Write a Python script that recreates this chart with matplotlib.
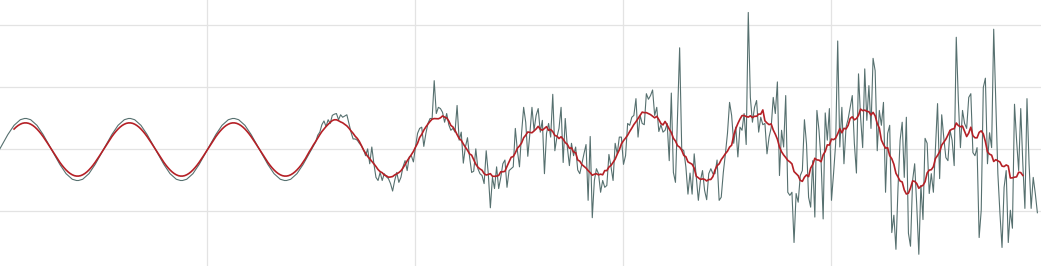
import numpy as np
import pandas as pd
import matplotlib
matplotlib.use("Agg")
import matplotlib.pyplot as plt

# signal values, one per step (x = 0..499)
# first part: clean wave, three periods
clean = [
    0, .06, .12, .18, .24, .29, .34, .39, .42, .45, .48, .49, .5, .5, .49, .48, .45, .42, .39, .34,
    .29, .24, .18, .12, .06, 0, -.06, -.12, -.18, -.24, -.29, -.34, -.39, -.42, -.45, -.48, -.49, -.5,
    -.5, -.49, -.48, -.45, -.42, -.39, -.34, -.29, -.24, -.18, -.12, -.06,
    0, .06, .12, .18, .24, .29, .34, .39, .42, .45, .48, .49, .5, .5, .49, .48, .45, .42, .39, .34,
    .29, .24, .18, .12, .06, 0, -.06, -.12, -.18, -.24, -.29, -.34, -.39, -.42, -.45, -.48, -.49, -.5,
    -.5, -.49, -.48, -.45, -.42, -.39, -.34, -.29, -.24, -.18, -.12, -.06,
    0, .06, .12, .18, .24, .29, .34, .39, .42, .45, .48, .49, .5, .5, .49, .48, .45, .42, .39, .34,
    .29, .24, .18, .12, .06, 0, -.06, -.12, -.18, -.24, -.29, -.34, -.39, -.42, -.45, -.48, -.49, -.5,
    -.5, -.49, -.48, -.45, -.42, -.39, -.34, -.29, -.24, -.18, -.12, -.06,
]

# second part: same wave with growing noise (x = 150..499)
noisy = [
    0, .06, .12, .23, .28, .40, .46, .37, .48, .42,
    .55, .57, .58, .48, .56, .52, .54, .56, .42, .28,
    .17, .17, .15, .1, .06, 0, -.1, .01, -.23, .04,
    -.23, -.45, -.5, -.37, -.5, -.39, -.44, -.47, -.55, -.67,
    -.5, -.37, -.53, -.45, -.28, -.18, -.34, -.12, -.1, -.2,
    .04, .26, .34, .36, .05, .26, .42, .5, .5, 1.11,
    .58, .68, .66, .6, .44, .58, .4, .31, .34, .28,
    .71, .15, .28, -.22, .04, .19, -.12, -.37, -.35, .01,
    -.31, -.39, -.42, -.55, -.02, -.39, -.94, -.45, -.63, -.28,
    -.63, -.45, -.23, -.17, -.61, -.34, -.31, -.28, .34, -.02,
    -.28, .26, .68, .44, -.11, .26, .68, .31, .55, .66,
    .28, .47, -.39, .26, .42, .2, .89, -.02, .2, .34,
    .68, -.21, .5, .04, -.26, .1, -.1, .04, -.33, -.39,
    -.23, -.07, .08, -.82, .21, -1.1, -.5, -.31, -.39, -.69,
    -.5, -.61, -.58, -.08, -.28, -.5, .1, -.07, .2, .2,
    -.24, -.1, .42, .39, .52, .55, .82, .2, .55, .42,
    .4, .9, .81, .87, .96, .55, .68, .29, .4, .28,
    .31, .42, -.18, .91, -.37, -.53, .55, 1.64, .01, -.02,
    -.28, -.72, -.38, -.72, -.07, -.45, -.82, -.5, -.34, -.66,
    -.81, -.39, -.31, -.39, -.39, -.17, -.82, -.77, -.37, -.07,
    .26, .76, .55, .1, .36, -.12, .36, .31, .58, .08,
    2.21, .84, .44, .68, .79, .28, .52, .4, .42, -.07,
    .2, .35, .84, .58, 1.09, -.42, .31, .04, .87, -.69,
    -.74, -.69, -1.5, -.71, -.85, -.42, -.34, .48, .09, -.77,
    -.93, -.18, -1.09, .63, .31, -.18, -1.12, .59, .15, .66,
    -.82, -.39, .09, 1.75, .04, .68, -.23, .36, .49, .68,
    .87, .1, -.38, 1.22, .52, .03, 1.3, .47, 1.03, .34,
    1.47, 1.27, -.02, .63, .39, .76, -.69, .26, .39, -1.34,
    -1.06, -1.61, -.61, .15, .44, -.45, .52, -1.35, -1.56, -.5,
    -.23, -.9, -1.69, -.58, -1.13, .18, .1, -.71, -.39, -.69,
    .03, .74, -.47, .56, .19, -.13, -.18, .31, .15, -.26,
    1.81, .79, .03, .63, .42, .34, .84, .9, -.05, -.1,
    .03, -1.42, -.98, 1.0, 1.15, -.23, .27, .03, 1.94, .79,
    -.39, -1.03, -1.58, -.61, -.34, -1.5, -.98, -1.27, .73, .15,
    -.34, .66, -.23, -.95, .82, -.23, -.95, -.45, -.71, -1.02,
]

values = pd.Series(clean + noisy)
steps = np.arange(len(values))
window = 15
smooth = values.rolling(window, center=True).mean()

fig = plt.figure(figsize=(10.41, 2.66), dpi=100)
ax = fig.add_axes([0, 0, 1, 1])

ax.plot(steps, values, color="#56706f", linewidth=0.8, zorder=2)
ax.plot(steps, smooth, color="#b52026", linewidth=1.2, zorder=3)

ax.set_xlim(0.24, 500.74)
ax.set_ylim(-1.879, 2.411)
ax.set_xticks([100, 200, 300, 400])
ax.set_yticks([-1, 0, 1, 2])
ax.grid(True, color="#e3e3e3", linewidth=0.9, zorder=0)
ax.tick_params(length=0, labelbottom=False, labelleft=False)
for s in ax.spines.values():
    s.set_visible(False)

plt.savefig("out.png", dpi=100)
